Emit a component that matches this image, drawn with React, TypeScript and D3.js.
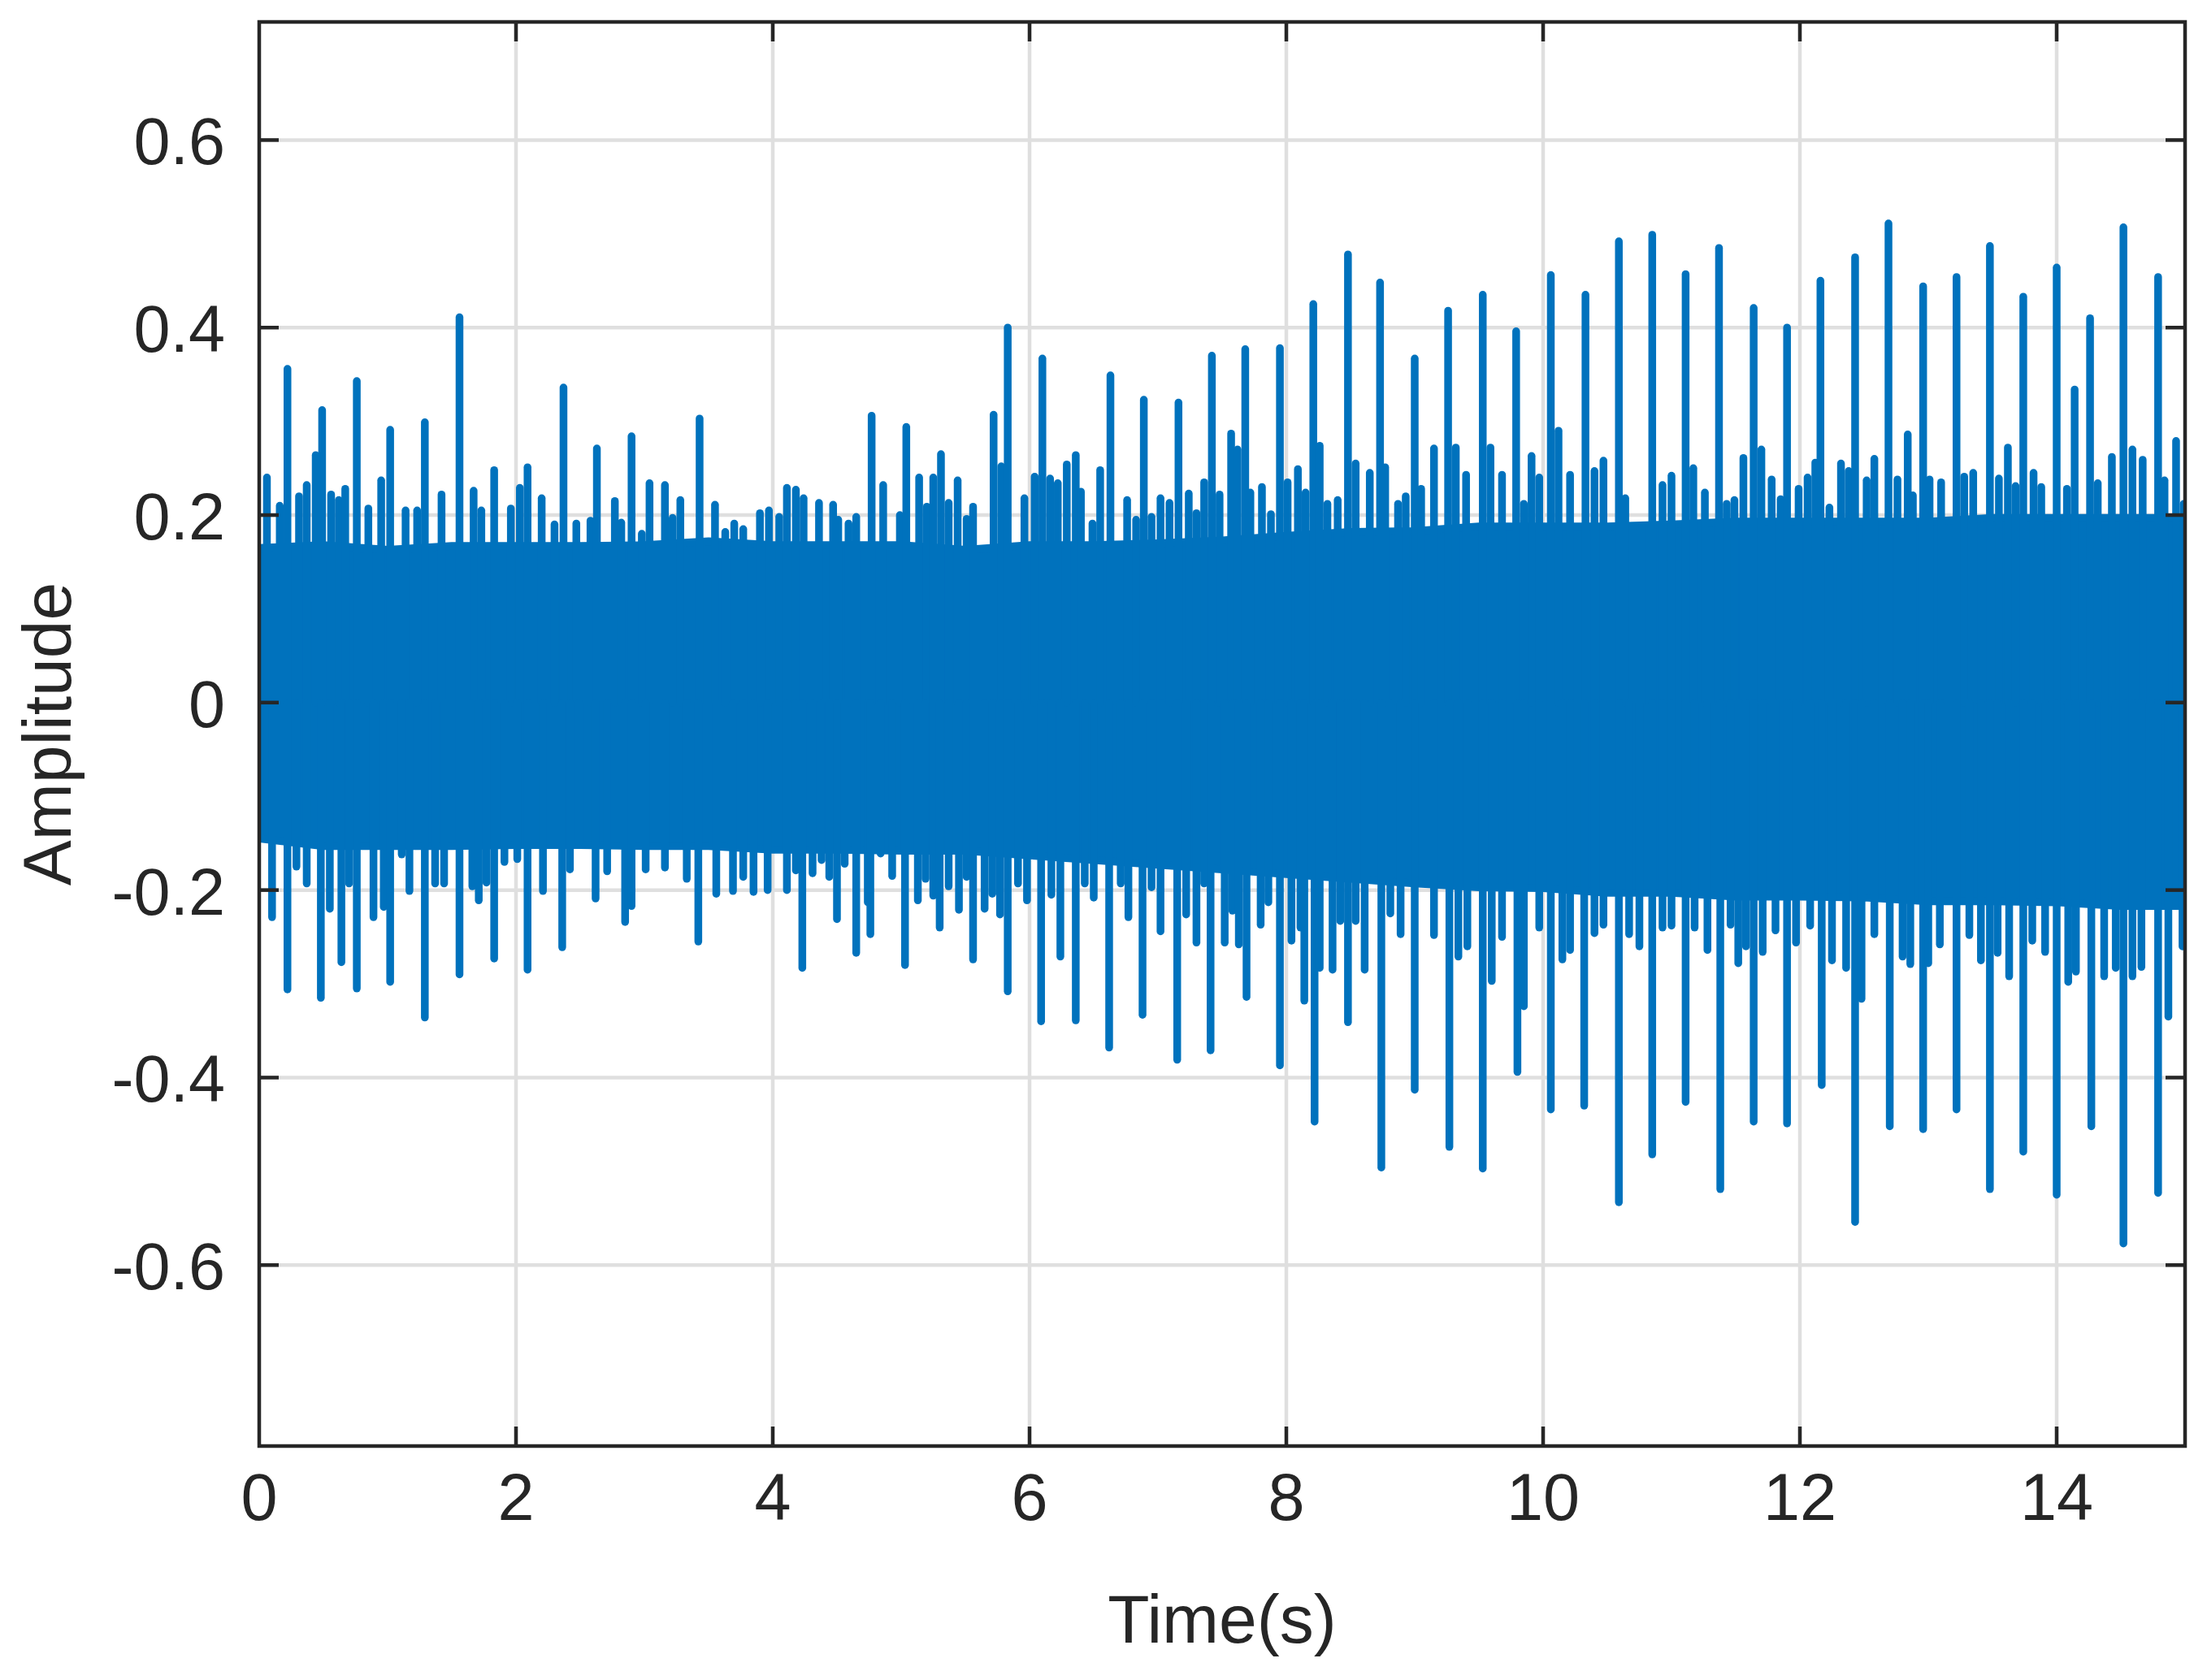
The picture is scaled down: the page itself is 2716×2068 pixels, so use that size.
import { useMemo } from "react";
import * as d3 from "d3";

const WIDTH = 2716;
const HEIGHT = 2068;
const BOUNDS = { left: 319, right: 2689, top: 27, bottom: 1780 };
const LINE_COLOR = "#0072BD";
const LINE_WIDTH = 9.5;
const AXIS_COLOR = "#262626";
const GRID_COLOR = "#dfdfdf";
const FONT = "'Liberation Sans', Arial, Helvetica, sans-serif";

// axis ticks
const xTicks = [0, 2, 4, 6, 8, 10, 12, 14];
const xTickLabels = ["0", "2", "4", "6", "8", "10", "12", "14"];
const yTicks = [-0.6, -0.4, -0.2, 0, 0.2, 0.4, 0.6];
const yTickLabels = ["-0.6", "-0.4", "-0.2", "0", "0.2", "0.4", "0.6"];

// dense core of the signal (every 0.5 s)
const coreTimes = [0, 0.5, 1, 1.5, 2, 2.5, 3, 3.5, 4, 4.5, 5, 5.5, 6, 6.5, 7, 7.5, 8, 8.5, 9, 9.5, 10, 10.5, 11, 11.5, 12, 12.5, 13, 13.5, 14, 14.5, 15];
const coreUpper = [0.165, 0.168, 0.163, 0.167, 0.167, 0.167, 0.168, 0.172, 0.168, 0.168, 0.168, 0.163, 0.168, 0.168, 0.17, 0.173, 0.178, 0.182, 0.183, 0.188, 0.188, 0.188, 0.19, 0.193, 0.193, 0.193, 0.193, 0.197, 0.197, 0.197, 0.197];
const coreLower = [-0.145, -0.153, -0.153, -0.153, -0.152, -0.152, -0.153, -0.153, -0.157, -0.157, -0.158, -0.158, -0.163, -0.168, -0.173, -0.178, -0.183, -0.188, -0.193, -0.197, -0.198, -0.203, -0.203, -0.207, -0.207, -0.208, -0.212, -0.212, -0.213, -0.217, -0.217];

// positive peaks
const posTimes = [
    0.06, 0.16, 0.22, 0.31, 0.37, 0.44, 0.49, 0.56, 0.62, 0.67, 0.76, 0.85, 0.95, 1.02, 1.14, 1.23, 1.29, 1.42, 1.56, 1.67, 1.73, 1.83, 1.96, 2.03, 2.09, 2.2, 2.3, 2.37, 2.47, 2.58, 2.63, 2.77, 2.82, 2.9, 2.98, 3.04, 3.16, 3.22, 3.28, 3.43, 3.55, 3.63, 3.7, 3.77,
    3.9, 3.97, 4.05, 4.11, 4.18, 4.24, 4.36, 4.47, 4.51, 4.59, 4.65, 4.77, 4.86, 4.99, 5.04, 5.14, 5.2, 5.25, 5.31, 5.37, 5.44, 5.51, 5.56, 5.72, 5.78, 5.83, 5.96, 6.04, 6.1, 6.16, 6.22, 6.29, 6.36, 6.4, 6.49, 6.55, 6.63, 6.76, 6.83, 6.89, 6.95, 7.02, 7.09, 7.16, 7.24, 7.3, 7.36, 7.42, 7.48, 7.57,
    7.62, 7.68, 7.72, 7.81, 7.88, 7.95, 8.01, 8.09, 8.15, 8.21, 8.26, 8.32, 8.4, 8.48, 8.54, 8.65, 8.73, 8.77, 8.87, 8.93, 9.0, 9.05, 9.15, 9.26, 9.32, 9.4, 9.53, 9.59, 9.68, 9.79, 9.85, 9.91, 9.97, 10.06, 10.12, 10.21, 10.33, 10.4, 10.47, 10.59, 10.64, 10.77, 10.85, 10.93, 11.0, 11.11, 11.17, 11.26,
    11.37, 11.43, 11.49, 11.56, 11.64, 11.7, 11.78, 11.85, 11.9, 11.99, 12.06, 12.12, 12.16, 12.23, 12.32, 12.38, 12.43, 12.52, 12.58, 12.69, 12.76, 12.84, 12.88, 12.96, 13.01, 13.1, 13.22, 13.28, 13.35, 13.48, 13.55, 13.62, 13.68, 13.74, 13.82, 13.88, 14.0, 14.08, 14.14, 14.26, 14.32, 14.43, 14.52, 14.59, 14.67, 14.79, 14.84, 14.93, 14.99,
];
const posValues = [
    0.24, 0.21, 0.356, 0.22, 0.232, 0.264, 0.312, 0.222, 0.216, 0.228, 0.343, 0.207, 0.237, 0.291, 0.205, 0.205, 0.299, 0.222, 0.411, 0.226, 0.205, 0.248, 0.207, 0.229, 0.251, 0.218, 0.19, 0.336, 0.191, 0.194, 0.271, 0.215, 0.192, 0.284, 0.18, 0.234, 0.232, 0.197, 0.216, 0.303, 0.211, 0.182, 0.191, 0.185,
    0.202, 0.205, 0.198, 0.229, 0.227, 0.218, 0.213, 0.211, 0.195, 0.191, 0.198, 0.306, 0.232, 0.2, 0.294, 0.24, 0.209, 0.24, 0.265, 0.213, 0.237, 0.196, 0.209, 0.307, 0.252, 0.4, 0.218, 0.241, 0.367, 0.239, 0.234, 0.254, 0.264, 0.225, 0.191, 0.248, 0.349, 0.216, 0.195, 0.323, 0.198, 0.218, 0.213, 0.32, 0.223, 0.202, 0.235, 0.37, 0.222, 0.287,
    0.27, 0.377, 0.224, 0.23, 0.201, 0.378, 0.235, 0.249, 0.224, 0.425, 0.274, 0.212, 0.216, 0.478, 0.255, 0.245, 0.448, 0.251, 0.212, 0.22, 0.367, 0.228, 0.271, 0.418, 0.272, 0.243, 0.435, 0.272, 0.243, 0.396, 0.212, 0.263, 0.24, 0.456, 0.29, 0.243, 0.435, 0.247, 0.258, 0.492, 0.218, 0.189, 0.499, 0.232, 0.242, 0.457, 0.25, 0.224,
    0.485, 0.212, 0.216, 0.261, 0.421, 0.27, 0.238, 0.217, 0.4, 0.228, 0.24, 0.256, 0.45, 0.208, 0.255, 0.247, 0.475, 0.237, 0.26, 0.511, 0.238, 0.286, 0.221, 0.444, 0.238, 0.235, 0.454, 0.241, 0.245, 0.487, 0.239, 0.272, 0.231, 0.433, 0.245, 0.23, 0.464, 0.228, 0.334, 0.41, 0.234, 0.262, 0.507, 0.27, 0.259, 0.454, 0.237, 0.279, 0.212,
];

// negative peaks
const negTimes = [
    0.1, 0.22, 0.29, 0.37, 0.48, 0.55, 0.64, 0.7, 0.76, 0.89, 0.97, 1.02, 1.11, 1.17, 1.29, 1.37, 1.44, 1.56, 1.66, 1.71, 1.77, 1.83, 1.91, 2.01, 2.09, 2.21, 2.36, 2.42, 2.49, 2.62, 2.71, 2.85, 2.9, 3.01, 3.16, 3.33, 3.42, 3.56, 3.69, 3.77,
    3.85, 3.96, 4.11, 4.18, 4.23, 4.31, 4.38, 4.44, 4.5, 4.56, 4.65, 4.74, 4.76, 4.84, 4.93, 5.03, 5.13, 5.19, 5.25, 5.3, 5.37, 5.45, 5.51, 5.56, 5.65, 5.71, 5.77, 5.83, 5.91, 5.98, 6.09, 6.17, 6.24, 6.36, 6.43, 6.5, 6.62, 6.71, 6.77, 6.88, 6.95, 7.02, 7.15, 7.22, 7.3, 7.36, 7.41, 7.52, 7.58,
    7.63, 7.69, 7.8, 7.86, 7.95, 8.04, 8.11, 8.14, 8.22, 8.26, 8.36, 8.42, 8.48, 8.54, 8.61, 8.74, 8.81, 8.89, 9.0, 9.15, 9.27, 9.34, 9.41, 9.53, 9.6, 9.68, 9.8, 9.85, 9.97, 10.06, 10.15, 10.21, 10.32, 10.4, 10.47, 10.59, 10.67, 10.75, 10.85, 10.93, 11.0, 11.11, 11.18, 11.28,
    11.38, 11.46, 11.52, 11.58, 11.64, 11.71, 11.81, 11.9, 11.97, 12.08, 12.17, 12.25, 12.36, 12.43, 12.48, 12.58, 12.7, 12.8, 12.86, 12.96, 13.0, 13.09, 13.22, 13.32, 13.41, 13.48, 13.54, 13.63, 13.74, 13.81, 13.91, 14.0, 14.09, 14.15, 14.27, 14.37, 14.46, 14.52, 14.59, 14.66, 14.79, 14.87, 14.98,
];
const negValues = [
    -0.229, -0.306, -0.175, -0.193, -0.315, -0.22, -0.277, -0.193, -0.305, -0.229, -0.218, -0.298, -0.162, -0.201, -0.336, -0.193, -0.193, -0.29, -0.196, -0.211, -0.192, -0.273, -0.17, -0.167, -0.285, -0.201, -0.261, -0.178, -0.149, -0.209, -0.18, -0.234, -0.217, -0.178, -0.176, -0.188, -0.255, -0.204, -0.201, -0.186,
    -0.202, -0.2, -0.2, -0.179, -0.283, -0.182, -0.168, -0.186, -0.231, -0.172, -0.267, -0.213, -0.247, -0.161, -0.185, -0.28, -0.211, -0.188, -0.206, -0.24, -0.196, -0.221, -0.186, -0.274, -0.22, -0.204, -0.226, -0.308, -0.193, -0.211, -0.34, -0.205, -0.271, -0.339, -0.193, -0.208, -0.368, -0.193, -0.229, -0.333, -0.197, -0.244, -0.381, -0.226, -0.256, -0.193, -0.371, -0.256, -0.222,
    -0.258, -0.314, -0.237, -0.213, -0.387, -0.254, -0.24, -0.318, -0.447, -0.283, -0.285, -0.233, -0.341, -0.233, -0.285, -0.496, -0.225, -0.247, -0.413, -0.248, -0.474, -0.271, -0.26, -0.497, -0.297, -0.25, -0.394, -0.324, -0.24, -0.434, -0.274, -0.264, -0.43, -0.246, -0.237, -0.533, -0.247, -0.26, -0.482, -0.24, -0.238, -0.426, -0.24, -0.264,
    -0.519, -0.237, -0.278, -0.26, -0.447, -0.266, -0.243, -0.449, -0.256, -0.238, -0.408, -0.275, -0.283, -0.554, -0.316, -0.247, -0.452, -0.271, -0.279, -0.455, -0.278, -0.258, -0.434, -0.248, -0.275, -0.519, -0.267, -0.292, -0.479, -0.254, -0.266, -0.525, -0.298, -0.287, -0.452, -0.292, -0.283, -0.577, -0.292, -0.282, -0.523, -0.335, -0.26,
];

export default function App() {
    const xScale = useMemo(() => d3.scaleLinear().domain([0, 15]).range([BOUNDS.left, BOUNDS.right]), []);
    const yScale = useMemo(() => d3.scaleLinear().domain([-0.793, 0.726]).range([BOUNDS.bottom, BOUNDS.top]), []);

    const corePath = d3
        .area<number>()
        .x((i) => xScale(coreTimes[i]))
        .y0((i) => yScale(coreLower[i]))
        .y1((i) => yScale(coreUpper[i]))(coreTimes.map((_, i) => i)) || "";

    const spikeLine = d3
        .line<[number, number]>()
        .x((d) => xScale(d[0]))
        .y((d) => yScale(d[1]));

    const spikes = [
        ...posTimes.map((t, i) => spikeLine([[t, 0], [t, posValues[i]]])),
        ...negTimes.map((t, i) => spikeLine([[t, 0], [t, negValues[i]]])),
    ];

    const tickLen = 24;

    return (
        <svg width={WIDTH} height={HEIGHT} style={{ position: "absolute", left: 0, top: 0, background: "#fff" }}>
            <defs>
                <clipPath id="plot-clip">
                    <rect x={BOUNDS.left} y={BOUNDS.top} width={BOUNDS.right - BOUNDS.left} height={BOUNDS.bottom - BOUNDS.top} />
                </clipPath>
            </defs>
            <rect x={0} y={0} width={WIDTH} height={HEIGHT} fill="#fff" />

            {/* grid */}
            {xTicks.slice(1).map((t) => (
                <line key={"gx" + t} x1={xScale(t)} x2={xScale(t)} y1={BOUNDS.top} y2={BOUNDS.bottom} stroke={GRID_COLOR} strokeWidth={4.5} />
            ))}
            {yTicks.map((v) => (
                <line key={"gy" + v} x1={BOUNDS.left} x2={BOUNDS.right} y1={yScale(v)} y2={yScale(v)} stroke={GRID_COLOR} strokeWidth={4.5} />
            ))}

            {/* signal */}
            <g clipPath="url(#plot-clip)">
                <path d={corePath} fill={LINE_COLOR} stroke={LINE_COLOR} strokeWidth={LINE_WIDTH} strokeLinejoin="round" />
                {spikes.map((d, i) => (
                    <path key={i} d={d || ""} fill="none" stroke={LINE_COLOR} strokeWidth={LINE_WIDTH} strokeLinecap="round" />
                ))}
            </g>

            {/* box and ticks */}
            <rect x={BOUNDS.left} y={BOUNDS.top} width={BOUNDS.right - BOUNDS.left} height={BOUNDS.bottom - BOUNDS.top} fill="none" stroke={AXIS_COLOR} strokeWidth={4.5} />
            {xTicks.slice(1).map((t) => (
                <g key={"tx" + t}>
                    <line x1={xScale(t)} x2={xScale(t)} y1={BOUNDS.bottom} y2={BOUNDS.bottom - tickLen} stroke={AXIS_COLOR} strokeWidth={4.5} />
                    <line x1={xScale(t)} x2={xScale(t)} y1={BOUNDS.top} y2={BOUNDS.top + tickLen} stroke={AXIS_COLOR} strokeWidth={4.5} />
                </g>
            ))}
            {yTicks.map((v) => (
                <g key={"ty" + v}>
                    <line x1={BOUNDS.left} x2={BOUNDS.left + tickLen} y1={yScale(v)} y2={yScale(v)} stroke={AXIS_COLOR} strokeWidth={4.5} />
                    <line x1={BOUNDS.right} x2={BOUNDS.right - tickLen} y1={yScale(v)} y2={yScale(v)} stroke={AXIS_COLOR} strokeWidth={4.5} />
                </g>
            ))}

            {/* tick labels */}
            {xTicks.map((t, i) => (
                <text key={"lx" + t} x={xScale(t)} y={BOUNDS.bottom + 91} textAnchor="middle" fontFamily={FONT} fontSize={81} fill={AXIS_COLOR}>
                    {xTickLabels[i]}
                </text>
            ))}
            {yTicks.map((v, i) => (
                <text key={"ly" + v} x={BOUNDS.left - 42} y={yScale(v) + 30} textAnchor="end" fontFamily={FONT} fontSize={81} fill={AXIS_COLOR}>
                    {yTickLabels[i]}
                </text>
            ))}

            {/* axis titles */}
            <text x={(BOUNDS.left + BOUNDS.right) / 2} y={2022} textAnchor="middle" fontFamily={FONT} fontSize={84} fill={AXIS_COLOR}>
                Time(s)
            </text>
            <text
                transform={`translate(87, ${(BOUNDS.top + BOUNDS.bottom) / 2}) rotate(-90)`}
                textAnchor="middle"
                fontFamily={FONT}
                fontSize={84}
                fill={AXIS_COLOR}
            >
                Amplitude
            </text>
        </svg>
    );
}
